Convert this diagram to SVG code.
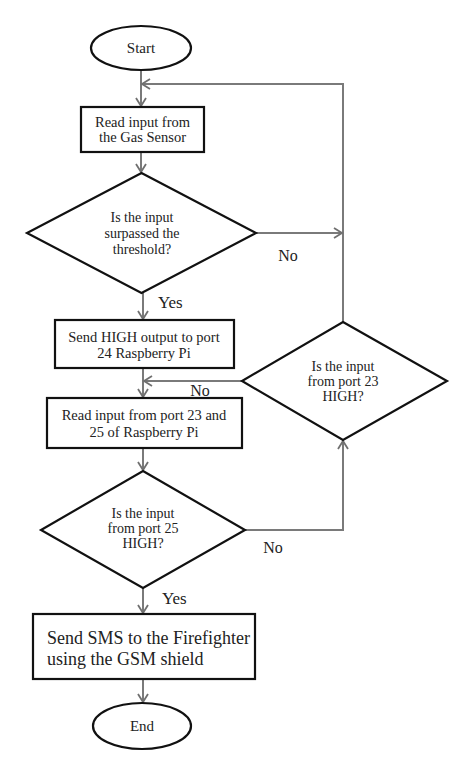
<svg xmlns="http://www.w3.org/2000/svg" width="474" height="757" viewBox="0 0 474 757">
<defs>
<marker id="arr" markerWidth="12" markerHeight="12" refX="9" refY="6" orient="auto" markerUnits="userSpaceOnUse">
<path d="M1,1 L9,6 L1,11" fill="none" stroke="#707070" stroke-width="1.8"/>
</marker>
<style>
.shape{fill:#fff;stroke:#111;stroke-width:2.2}
.conn{fill:none;stroke:#7a7a7a;stroke-width:2;marker-end:url(#arr)}
.t{font-family:"Liberation Serif","Times New Roman",serif;font-size:14.5px;fill:#222;text-anchor:middle}
.d{font-size:14px}
.lbl{font-family:"Liberation Serif","Times New Roman",serif;font-size:16px;fill:#222}
.big{font-family:"Liberation Serif","Times New Roman",serif;font-size:18px;fill:#222}
</style>
</defs>
<rect width="474" height="757" fill="#fff"/>
<g id="connectors">
<path class="conn" d="M141,71 V106"/>
<path class="conn" d="M343,322 V84 H142"/>
<path class="conn" d="M141,152 V172"/>
<path class="conn" d="M256,233 H342"/>
<path class="conn" d="M143,293 V319"/>
<path class="conn" d="M143,368 V397"/>
<path class="conn" d="M242,381 H144"/>
<path class="conn" d="M143,448 V470"/>
<path class="conn" d="M245,530 H343 V441"/>
<path class="conn" d="M143,588 V613"/>
<path class="conn" d="M143,679 V702"/>
<text class="lbl" x="288" y="261" text-anchor="middle">No</text>
<text class="lbl" x="158" y="308" style="font-size:17px">Yes</text>
<text class="lbl" x="200" y="396" text-anchor="middle">No</text>
<text class="lbl" x="273" y="553" text-anchor="middle">No</text>
<text class="lbl" x="162" y="604" style="font-size:17px">Yes</text>
</g>
<g id="start">
<ellipse class="shape" cx="141" cy="48" rx="50" ry="22"/>
<text class="t" x="141" y="53" style="font-size:15px">Start</text>
</g>
<g id="read-gas">
<rect class="shape" x="81" y="107" width="123" height="45"/>
<text class="t" x="142.5" y="127">Read input from</text>
<text class="t" x="142.5" y="142">the Gas Sensor</text>
</g>
<g id="threshold">
<polygon class="shape" points="141.5,173 256,233 141.5,293 27,233"/>
<text class="t d" x="142" y="222">Is the input</text>
<text class="t d" x="142" y="238">surpassed the</text>
<text class="t d" x="142" y="254">threshold?</text>
</g>
<g id="send-high">
<rect class="shape" x="55" y="320" width="179" height="48"/>
<text class="t" x="144" y="342">Send HIGH output to port</text>
<text class="t" x="144" y="358">24 Raspberry Pi</text>
</g>
<g id="port23">
<polygon class="shape" points="343,322 447,381 343,440 242,381"/>
<text class="t d" x="343" y="371">Is the input</text>
<text class="t d" x="343" y="386">from port 23</text>
<text class="t d" x="343" y="401">HIGH?</text>
</g>
<g id="read-ports">
<rect class="shape" x="47" y="398" width="195" height="50"/>
<text class="t" x="144" y="420">Read input from port 23 and</text>
<text class="t" x="144" y="437">25 of Raspberry Pi</text>
</g>
<g id="port25">
<polygon class="shape" points="143,471 245,530 143,588 41,530"/>
<text class="t d" x="143" y="518">Is the input</text>
<text class="t d" x="143" y="533">from port 25</text>
<text class="t d" x="143" y="548">HIGH?</text>
</g>
<g id="send-sms">
<rect class="shape" x="33" y="614" width="222" height="65"/>
<text class="big" x="47" y="644">Send SMS to the Firefighter</text>
<text class="big" x="47" y="665">using the GSM shield</text>
</g>
<g id="end">
<ellipse class="shape" cx="142" cy="726" rx="49" ry="23"/>
<text class="t" x="142" y="731" style="font-size:15px">End</text>
</g>
</svg>
